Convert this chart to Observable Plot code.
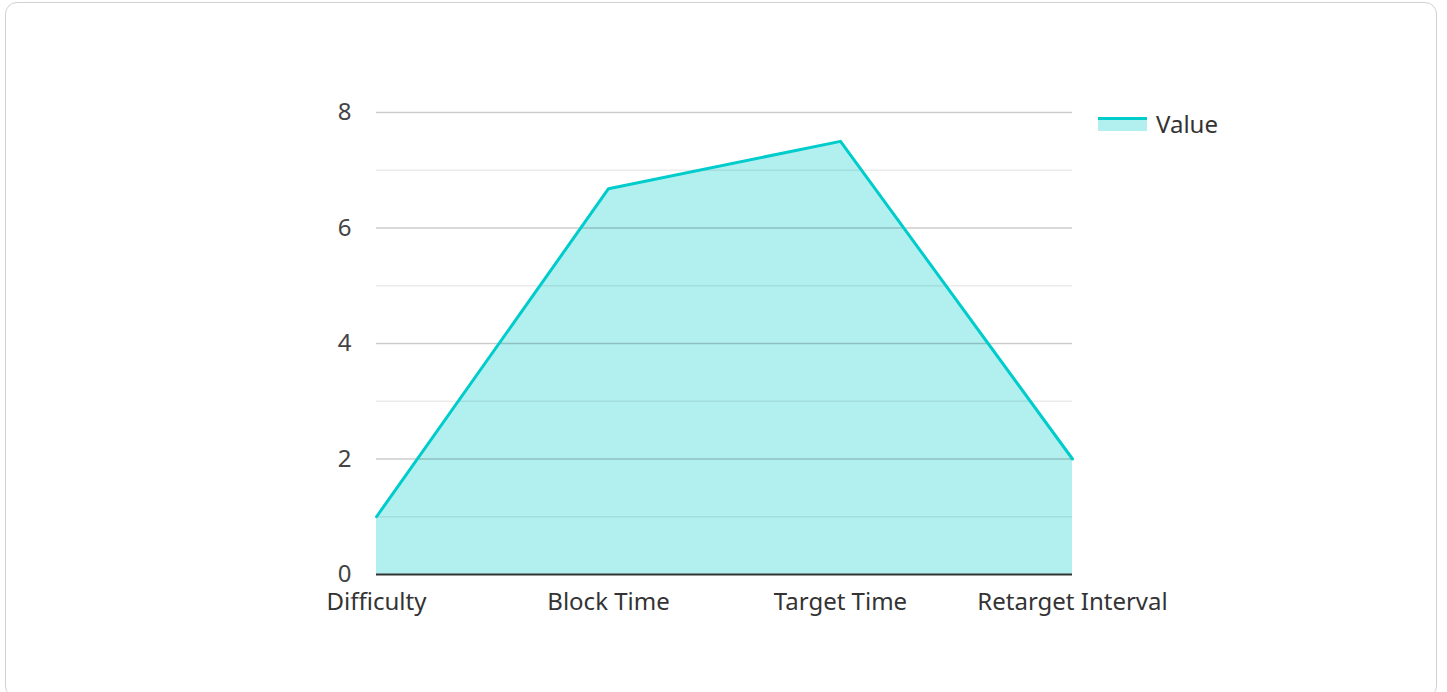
<!DOCTYPE html>
<html>
<head>
<meta charset="utf-8">
<script src="https://cdn.jsdelivr.net/npm/d3@7"></script>
<script src="https://cdn.jsdelivr.net/npm/@observablehq/plot@0.6"></script>
<style>
  html, body { margin: 0; padding: 0; background: #fff; }
  body { width: 1447px; height: 692px; overflow: hidden; position: relative; font-family: "Noto Sans", sans-serif; }
  .card { position: absolute; left: 5px; top: 2px; width: 1432px; height: 696px; border: 1.5px solid #d0d0d0; border-radius: 12px; box-sizing: border-box; }
  #chart { position: absolute; left: 0; top: 0; }
  .legend { position: absolute; left: 1098px; top: 107px; display: flex; align-items: center; font-size: 24px; color: #333; }
  .sw { width: 49px; height: 14px; position: relative; margin-right: 9px; }
  .sw .f { position: absolute; left: 0; top: 0; width: 49px; height: 14px; background: #00cccc; opacity: 0.3; }
  .sw .l { position: absolute; left: 0; top: 0; width: 49px; height: 3px; background: #00cccc; }
</style>
</head>
<body>
<div class="card"></div>
<div id="chart"></div>
<div class="legend"><div class="sw"><div class="f"></div><div class="l"></div></div><span>Value</span></div>
<script>
const categories = ["Difficulty", "Block Time", "Target Time", "Retarget Interval"];
const values = [1, 6.68, 7.5, 2];
const yTicks = [0, 2, 4, 6, 8];
const gridLines = [1, 2, 3, 4, 5, 6, 7, 8];
const seriesName = "Value";

const data = categories.map((c, i) => ({category: c, value: values[i]}));

const plot = Plot.plot({
  width: 1447,
  height: 692,
  marginLeft: 376,
  marginRight: 375,
  marginTop: 112,
  marginBottom: 118,
  style: {fontFamily: "Noto Sans, sans-serif", fontSize: "24px", color: "#444", background: "transparent"},
  x: {type: "point", domain: categories, padding: 0, label: null},
  y: {domain: [0, 8], label: null},
  marks: [
    Plot.areaY(data, {x: "category", y: "value", fill: "#00cccc", fillOpacity: 0.3}),
    Plot.ruleY(gridLines, {y: d => d, stroke: "#000", strokeOpacity: d => d % 2 === 0 ? 0.2 : 0.08, strokeWidth: 1.5}),
    Plot.lineY(data, {x: "category", y: "value", stroke: "#00cccc", strokeWidth: 3}),
    Plot.ruleY([0], {stroke: "#333", strokeWidth: 2}),
    Plot.axisY({ticks: yTicks, tickSize: 0, tickPadding: 25, fontSize: 24, fill: "#444", label: null}),
    Plot.axisX({tickSize: 0, tickPadding: 18, fontSize: 24, fill: "#333", label: null})
  ]
});
document.getElementById("chart").appendChild(plot);
</script>
</body>
</html>
